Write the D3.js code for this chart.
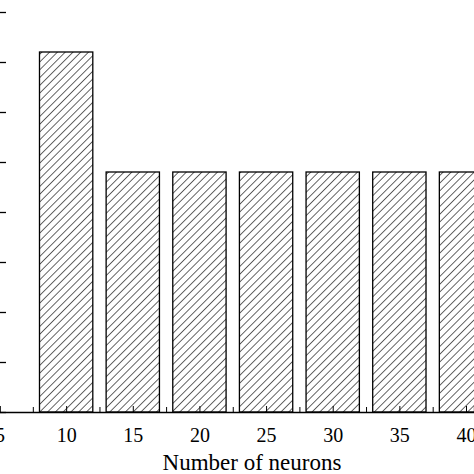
<!DOCTYPE html>
<html><head><meta charset="utf-8">
<script src="https://cdn.jsdelivr.net/npm/d3@7"></script>
<style>body{margin:0;background:#fff}</style></head>
<body><svg id="c" width="474" height="474"></svg>
<script>
const neurons=[10,15,20,25,30,35,40];
const values=[7.2,4.8,4.8,4.8,4.8,4.8,4.8];
const xTicks=[5,10,15,20,25,30,35,40];
const yTicks=[0,1,2,3,4,5,6,7,8];
const svg=d3.select("#c");
const x=d3.scaleLinear().domain([5,40.6]).range([-0.5,474]);
const y=d3.scaleLinear().domain([0,8]).range([412,12]);
const defs=svg.append("defs");
const p=defs.append("pattern").attr("id","h").attr("patternUnits","userSpaceOnUse")
 .attr("width",5.5).attr("height",5.5).attr("patternTransform","rotate(45)");
p.append("line").attr("x1",0).attr("y1",0).attr("x2",0).attr("y2",5.5).attr("stroke","#000").attr("stroke-width",1.2);
const bw=x(14)-x(10);
svg.selectAll("rect.b").data(neurons).enter().append("rect")
 .attr("x",(d)=>x(d)-bw/2).attr("y",(d,i)=>y(values[i]))
 .attr("width",bw).attr("height",(d,i)=>y(0)-y(values[i]))
 .attr("fill","url(#h)").attr("stroke","#000").attr("stroke-width",1.3);
const xa=svg.append("g").attr("transform","translate(0,412)")
 .call(d3.axisBottom(x).tickValues(xTicks).tickSize(-6).tickPadding(16).tickFormat(d3.format("d")));
xa.select(".domain").attr("stroke-width",1.3);
xa.selectAll("text").attr("font-family","Liberation Serif").attr("font-size",20).attr("fill","#000");
svg.append("g").attr("transform","translate(0,412)")
 .call(d3.axisBottom(x).tickValues(xTicks.map(d=>d+2.5)).tickSize(-5).tickFormat(""))
 .select(".domain").remove();
const ya=svg.append("g").attr("transform","translate(-1,0)")
 .call(d3.axisLeft(y).tickValues(yTicks).tickSize(-7).tickFormat(""));
ya.selectAll("line").attr("stroke-width",1.3);
svg.append("text").attr("x",252).attr("y",470).attr("text-anchor","middle")
 .attr("font-family","Liberation Serif").attr("font-size",23).text("Number of neurons");
</script></body></html>
